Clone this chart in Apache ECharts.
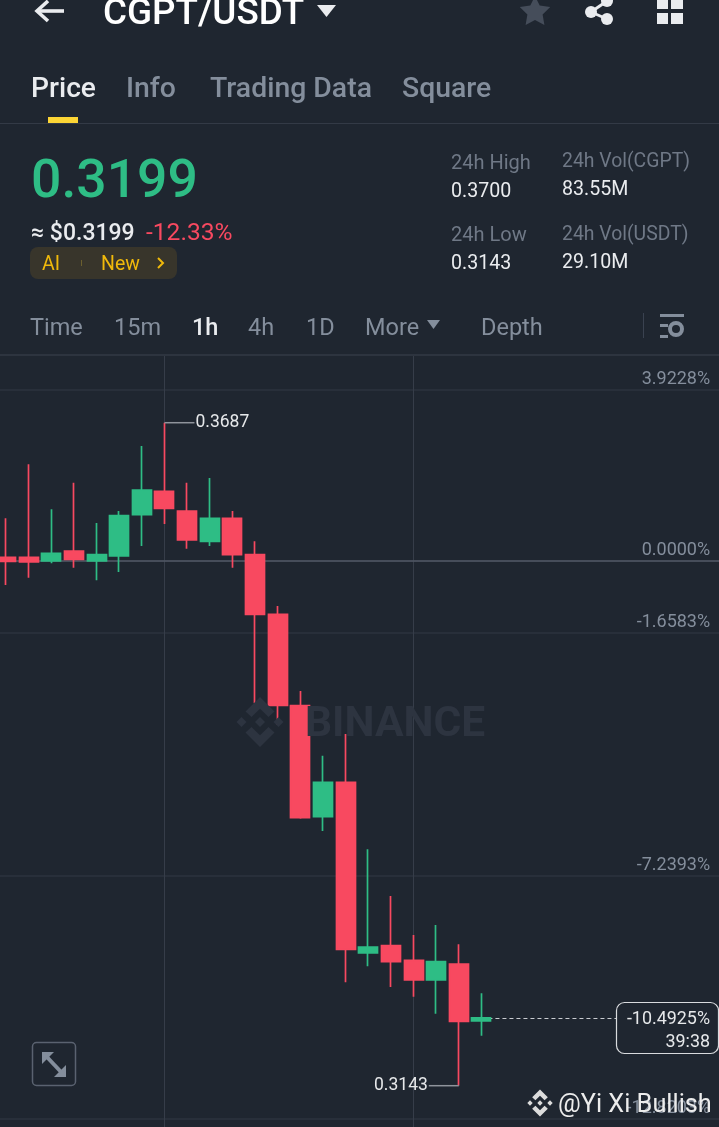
<!DOCTYPE html>
<html><head><meta charset="utf-8">
<style>html,body{margin:0;padding:0;background:#1f2630}#c{width:719px;height:1127px}</style>
<script src="https://cdn.jsdelivr.net/npm/echarts@6/dist/echarts.min.js"></script>
</head><body><div id="c"></div>
<script>
// Candle values, in percent from the reference price
const opens  = [0.085,0.085,0,0.230,0,0.115,1.063,1.601,1.148,0.452,0.981,0.145,-1.224,-3.323,-5.873,-5.083,-9.003,-8.835,-9.171,-9.623,-9.256,-10.565];
const closes = [-0.007,-0.023,0.177,0.039,0.145,1.040,1.631,1.210,0.482,0.981,0.145,-1.224,-3.314,-5.896,-5.083,-8.918,-8.865,-9.203,-9.623,-9.203,-10.572,-10.4925];
const lows   = [-0.551,-0.384,-0.053,-0.154,-0.443,-0.253,0.345,0.850,0.282,0.345,-0.154,-3.268,-3.767,-5.919,-6.201,-9.676,-9.309,-9.784,-10.007,-10.397,-12.051,-10.902];
const highs  = [0.981,2.221,1.187,1.798,0.873,1.148,2.641,3.176,1.798,1.906,1.148,0.452,-1.034,-2.986,-4.472,-3.973,-6.621,-7.694,-8.590,-8.360,-8.803,-9.929];
const slots = ['1','2','3','4','5','6','7','8','9','10','11','12','13','14','15','16','17','18','19','20','21','22','23','24','25','26','27','28','29','30','31','32'];
const yTicks = [3.9228,0,-1.6583,-7.2393,-12.8203];
const verticalSlots = [7,18];
const highMark = {index:7,value:3.176,text:'0.3687'};
const lowMark = {index:20,value:-12.051,text:'0.3143'};
const lastPct = -10.4925;
const lastBoxEnd = 27;
const tabs = ['Price','Info','Trading Data','Square'];
const periods = ['Time','15m','1h','4h','1D','More','Depth'];

const BG='#1f2630',UP='#2ebd85',DOWN='#f84960',GREY='#848e9c',WHITE='#eaecef';
const F='Roboto, sans-serif';
const t=(text,x,y,size,fill,weight,align,z)=>({type:'text',x,y,z:z||3,silent:true,style:{text,fill,font:(weight||400)+' '+size+'px '+F,align:align||'left',verticalAlign:'middle'}});
const poly=(pts,fill,z)=>({type:'polygon',z:z||3,silent:true,shape:{points:pts},style:{fill}});
const pline=(pts,stroke,w,z)=>({type:'polyline',z:z||3,silent:true,shape:{points:pts},style:{stroke,lineWidth:w,fill:null}});
const rect=(x,y,w,h,fill,r,stroke,lw,z)=>({type:'rect',z:z||3,silent:true,shape:{x,y,width:w,height:h,r:r||0},style:{fill:fill||null,stroke:stroke||null,lineWidth:lw||0}});
const circ=(cx,cy,r,fill,stroke,lw)=>({type:'circle',z:3,silent:true,shape:{cx,cy,r},style:{fill:fill||null,stroke:stroke||null,lineWidth:lw||0}});
const star=(cx,cy,R,fill)=>{const p=[];for(let i=0;i<10;i++){const a=-Math.PI/2+i*Math.PI/5,r=i%2?R*0.5:R;p.push([cx+r*Math.cos(a),cy+r*Math.sin(a)]);}return poly(p,fill);};
const logo=(cx,cy,R,fill,z)=>{const P=a=>a.map(q=>[cx+q[0]*R,cy+q[1]*R]);const d=(x,r)=>P([[x,-r],[x+r,0],[x,r],[x-r,0]]);return [
  poly(d(0,.2),fill,z),poly(d(-.74,.2),fill,z),poly(d(.74,.2),fill,z),
  poly(P([[0,-1],[.58,-.42],[.34,-.2],[0,-.53],[-.34,-.2],[-.58,-.42]]),fill,z),
  poly(P([[0,1],[.58,.42],[.34,.2],[0,.53],[-.34,.2],[-.58,.42]]),fill,z)];};

const graphics=[
  // top bar
  pline([[37,11],[64,11]],WHITE,3.6),pline([[48,1],[37,11],[48,21]],WHITE,3.6),
  t('CGPT/USDT',103,14.5,36.8,'#ffffff',500),
  poly([[317,5],[336,5],[326.5,17]],WHITE),
  star(535,12,16,'#454d5a'),
  pline([[591,12],[607,1]],WHITE,3),pline([[591,12],[607,19]],WHITE,3),
  circ(591,12,6,WHITE),circ(607,1,6,WHITE),circ(607,19,6,WHITE),
  rect(657,-2,11,11,WHITE),rect(671,-2,12,11,WHITE),rect(657,13,11,11,WHITE),rect(671,13,12,11,WHITE),
  // tabs
  t(tabs[0],31,89.5,28.2,WHITE,500),t(tabs[1],126,89.5,28.4,GREY,500),t(tabs[2],210,89.5,28.4,GREY,500),t(tabs[3],402,89.5,28.4,GREY,500),
  rect(48,117,30,6,'#fcd535'),rect(0,123,719,1,'#333a46'),
  // price block
  t('0.3199',31,184,53.5,UP,500),
  t('≈ $0.3199',31,234,23,WHITE,500),t('-12.33%',146,234,24.6,DOWN,400),
  rect(30,247,147,32,'#38352b',8),
  t('AI',42,265,19.5,'#f0b90b',400),rect(81,260,1,6,'#6b5f2e'),t('New',101,265,19.5,'#f0b90b',400),
  pline([[158,258],[163,263],[158,268]],'#f0b90b',2),
  // stats
  t('24h High',451,164,20,'#6f7886'),t('0.3700',451,192,19.6,WHITE),
  t('24h Vol(CGPT)',562,162,19.4,'#6f7886'),t('83.55M',562,190,19.6,WHITE),
  t('24h Low',451,236,20,'#6f7886'),t('0.3143',451,264,19.6,WHITE),
  t('24h Vol(USDT)',562,235,19.4,'#6f7886'),t('29.10M',562,263,19.6,WHITE),
  // periods
  t(periods[0],30,329,23.5,GREY),t(periods[1],114,329,23.5,GREY),t(periods[2],192,329,23.5,WHITE,500),t(periods[3],248,329,23.5,GREY),
  t(periods[4],306,329,23.5,GREY),t(periods[5],365,329,23.5,GREY),poly([[427,320],[440,320],[433.5,329]],GREY),t(periods[6],481,329,23.5,GREY),
  rect(643,313,1,25,'#3a4250'),
  rect(660,314,24,3,GREY),rect(660,324,8,3,GREY),rect(660,335,8,3,GREY),circ(676,329,6,null,GREY,4),
  rect(0,354,719,2,'#2d343f'),
  // watermark
  ...logo(260,722,25,'#2d3440',0),
  t('BINANCE',305,725,42.5,'#2d3440',700,'left',0),
  // zoom button
  rect(32.5,1042.5,43,43,null,4,'#5a6270',1.5),
  poly([[42,1052],[54,1052],[42,1064]],GREY),poly([[66,1065],[66,1077],[54,1077]],GREY),pline([[46,1056],[62,1073]],GREY,4),
  // last price box
  rect(616.5,1002.5,102,51,BG,8,'#d9dbde',1.2,10),
  t(lastPct.toFixed(4)+'%',710,1019.5,17.9,'#e6e8ea',400,'right',11),t('39:38',710,1042.5,17.9,'#e6e8ea',400,'right',11),
  // credit
  ...logo(540,1103,13.5,'#dcdcdc',12),
  t('@Yi Xi Bullish',558,1106,25.3,'#ececec',400,'left',12)
];

const chart=echarts.init(document.getElementById('c'),null,{renderer:'canvas'});
const markOf=(m,off,pos)=>({coord:[m.index,m.value],symbol:'rect',symbolSize:[30,1.5],symbolOffset:[off,0],itemStyle:{color:'#8f949c'},
  label:{show:true,formatter:m.text,position:pos,distance:1,color:'#e6e8ea',fontSize:17.5,fontFamily:F}});
chart.setOption({
  animation:false,backgroundColor:BG,
  grid:{left:-5.32,top:355,width:724.48,height:772,containLabel:false,outerBoundsMode:'none'},
  xAxis:{type:'category',data:slots,boundaryGap:true,axisLine:{show:false},axisTick:{show:false},axisLabel:{show:false},splitLine:{show:false}},
  yAxis:{type:'value',position:'right',min:-12.9995,max:4.7313,
    axisLine:{show:false},
    axisTick:{show:false,customValues:yTicks},
    axisLabel:{inside:true,customValues:yTicks,margin:9,verticalAlign:'bottom',color:GREY,fontSize:18,fontFamily:F,lineHeight:22,
      formatter:v=>Number(v).toFixed(4)+'%'},
    splitLine:{show:true,lineStyle:{color:'#2c333e',width:1.5}}},
  graphic:{elements:graphics},
  series:[{type:'candlestick',barWidth:19.5,clip:false,
    data:opens.map((o,i)=>[o,closes[i],lows[i],highs[i]]),
    itemStyle:{color:UP,color0:DOWN,borderColor:UP,borderColor0:DOWN,borderWidth:1.7},
    markLine:{z:1,silent:true,symbol:'none',animation:false,label:{show:false},data:[
      ...verticalSlots.map(v=>({xAxis:v,lineStyle:{color:'#363d49',width:1,type:'solid'}})),
      {yAxis:0,lineStyle:{color:'#515866',width:1.5,type:'solid'}},
      [{coord:[21,lastPct],lineStyle:{color:'#c9ccd1',width:1,type:[4,3]}},{coord:[lastBoxEnd,lastPct]}]
    ]},
    markPoint:{silent:true,animation:false,data:[markOf(highMark,15,'right'),markOf(lowMark,-15,'left')]}
  }]
});
</script></body></html>
